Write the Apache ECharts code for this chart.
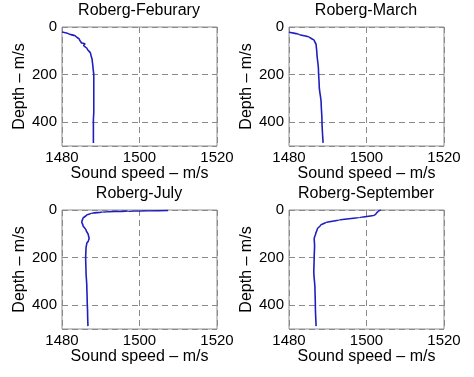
<!DOCTYPE html>
<html>
<head>
<meta charset="utf-8">
<script src="https://cdn.jsdelivr.net/npm/echarts@6/dist/echarts.min.js"></script>
<style>
html,body{margin:0;padding:0;background:#fff;}
#c{width:474px;height:377px;}
</style>
</head>
<body>
<div id="c"></div>
<script>
// Panel titles
var titles = ['Roberg-Feburary', 'Roberg-March', 'Roberg-July', 'Roberg-September'];
// Axis ticks
var xTicks = [1480, 1500, 1520];
var yTicks = [0, 200, 400];

// February profile
var depthFeb = [21, 28, 38, 52, 67, 70, 78, 91, 112, 140, 170, 200, 250, 300, 360, 390, 440, 487];
var speedFeb = [1480, 1481.7, 1483.5, 1484.5, 1485.0, 1485.9, 1485.6, 1486.5, 1487.4, 1487.8, 1488.0, 1488.2, 1488.2, 1488.2, 1488.2, 1488.1, 1488.1, 1488.1];
// March profile
var depthMar = [22, 31, 42, 56, 74, 109, 179, 249, 319, 389, 487];
var speedMar = [1480, 1482.6, 1485.2, 1486.5, 1487.0, 1487.2, 1487.6, 1487.8, 1488.3, 1488.5, 1488.8];
// July profile
var depthJul = [2, 5, 8, 14, 22, 35, 50, 65, 84, 105, 120, 130, 140, 160, 200, 260, 320, 380, 430, 488];
var speedJul = [1507.4, 1497, 1490.5, 1487.6, 1486.3, 1485.4, 1485.1, 1485.4, 1486.2, 1486.8, 1487.0, 1486.8, 1486.4, 1486.2, 1486.1, 1486.2, 1486.4, 1486.5, 1486.6, 1486.7];
// September profile
var depthSep = [0, 5, 15, 22, 32, 42, 52, 63, 80, 99, 120, 150, 200, 260, 330, 400, 488];
var speedSep = [1503.7, 1503.0, 1502.5, 1502.1, 1498.1, 1492.9, 1489.5, 1488.2, 1487.3, 1486.9, 1486.5, 1486.6, 1486.5, 1486.4, 1486.7, 1486.8, 1487.0];

var depths = [depthFeb, depthMar, depthJul, depthSep];
var speeds = [speedFeb, speedMar, speedJul, speedSep];

var FONT = "'Liberation Sans', Arial, sans-serif";
var gridPos = [
  {left: 62, top: 27, width: 155, height: 119},
  {left: 289, top: 27, width: 155, height: 119},
  {left: 62, top: 210, width: 155, height: 119},
  {left: 289, top: 210, width: 155, height: 119}
];
var titleCenters = [[139, 3], [366, 3], [139, 186], [366, 186]];

var grids = [], xAxes = [], yAxes = [], series = [], titleOpts = [];
for (var i = 0; i < 4; i++) {
  var g = gridPos[i];
  grids.push({left: g.left, top: g.top, width: g.width, height: g.height, show: true, borderColor: '#8e8e8e', borderWidth: 1, backgroundColor: 'transparent'});
  xAxes.push({
    type: 'value', gridIndex: i, min: xTicks[0], max: xTicks[xTicks.length - 1], interval: xTicks[1] - xTicks[0],
    axisLine: {show: false}, axisTick: {show: false},
    axisLabel: {color: '#000', fontSize: 15, fontFamily: FONT, margin: 4,
      formatter: function (v) { return String(v); }},
    splitLine: {show: true, lineStyle: {color: '#8a8a8a', width: 1, type: [6, 4]}},
    name: 'Sound speed \u2013 m/s', nameLocation: 'middle', nameGap: 20,
    nameTextStyle: {color: '#000', fontSize: 16, fontFamily: FONT}
  });
  yAxes.push({
    type: 'value', gridIndex: i, inverse: true, min: 0, max: 500, interval: yTicks[1] - yTicks[0],
    axisLine: {show: false}, axisTick: {show: false},
    axisLabel: {color: '#000', fontSize: 15, fontFamily: FONT, margin: 5,
      formatter: function (v) { return v >= 500 ? '' : String(v); }},
    splitLine: {show: true, lineStyle: {color: '#8a8a8a', width: 1, type: [6, 4]}},
    name: 'Depth \u2013 m/s', nameLocation: 'middle', nameGap: 34,
    nameTextStyle: {color: '#000', fontSize: 16, fontFamily: FONT}
  });
  var d = [];
  for (var k = 0; k < depths[i].length; k++) d.push([speeds[i][k], depths[i][k]]);
  series.push({
    type: 'line', xAxisIndex: i, yAxisIndex: i, data: d, showSymbol: false, symbol: 'none',
    smooth: 0.25, smoothMonotone: 'y', lineStyle: {color: '#1f1fc0', width: 1.6}, clip: true, animation: false
  });
  titleOpts.push({
    text: titles[i], left: titleCenters[i][0], top: titleCenters[i][1], textAlign: 'center', padding: 0,
    textStyle: {color: '#000', fontSize: 16, fontWeight: 'normal', fontFamily: FONT, lineHeight: 16}
  });
}

var chart = echarts.init(document.getElementById('c'), null, {renderer: 'canvas'});
chart.setOption({
  backgroundColor: '#fff',
  animation: false,
  title: titleOpts,
  grid: grids,
  xAxis: xAxes,
  yAxis: yAxes,
  series: series
});
</script>
</body>
</html>
